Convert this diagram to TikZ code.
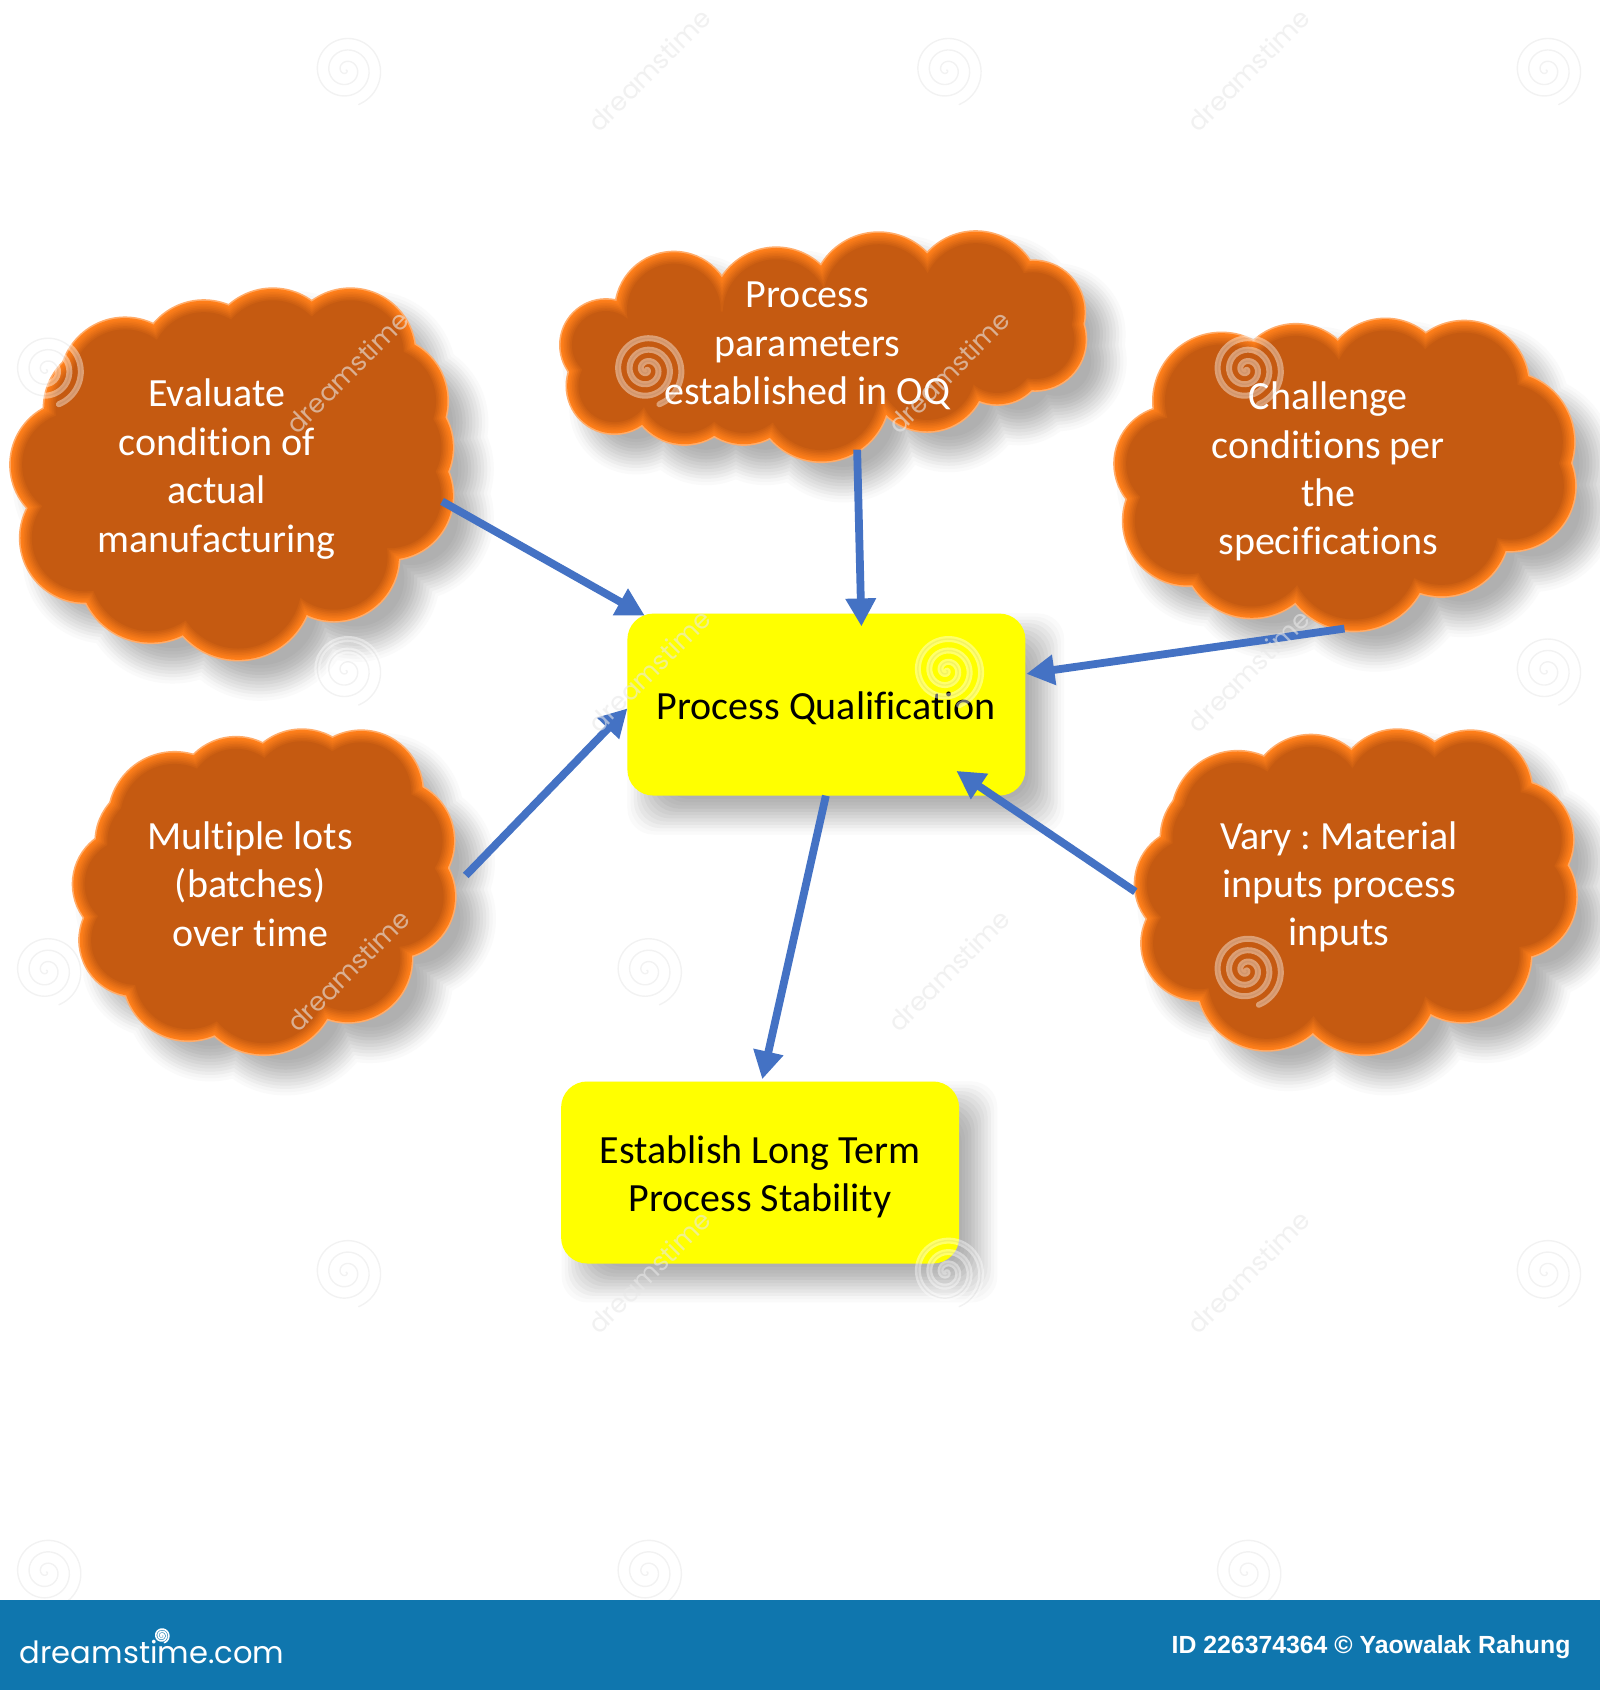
\documentclass[tikz,border=0pt]{standalone}
\usepackage{fontspec}
\setmainfont{Carlito}[RawFeature=-liga]
\newfontfamily\wmfont{Poppins}
\newfontfamily\idfont{Liberation Sans}
\usetikzlibrary{arrows.meta,calc}
\definecolor{cloudcore}{HTML}{C55A11}
\definecolor{cloudedge}{HTML}{FF7F1A}
\definecolor{flow}{RGB}{68,114,196}
\definecolor{banner}{RGB}{15,118,174}
\definecolor{boxyellow}{RGB}{255,255,0}
\definecolor{wmgray}{RGB}{232,232,232}
\def\CloudA{116/355/60,189/339/60,253/329/61,325/328/60,355/372/60,361/415/59,361/460/59,310/516/60,221/543/69,140/529/67,79/499/60,69/431/59,101/379/60}
\def\PolyA{(116,355)--(189,339)--(253,329)--(325,328)--(355,372)--(361,415)--(361,460)--(310,516)--(221,543)--(140,529)--(79,499)--(69,431)--(101,379)--cycle}
\def\CloudB{625/288/54,720/290/60,815/278/62,905/275/60,958/290/48,960/315/47,925/330/45,860/345/55,762/365/63,690/360/52,635/360/52,570/358/44,562/320/42}
\def\PolyB{(625,288)--(720,290)--(815,278)--(905,275)--(958,290)--(960,315)--(925,330)--(860,345)--(762,365)--(690,360)--(635,360)--(570,358)--(562,320)--cycle}
\def\CloudC{1133/372/63,1202/358/57,1285/354/58,1358/358/60,1395/410/65,1401/451/60,1337/490/63,1256/515/70,1161/508/65,1102/483/60,1087/430/53}
\def\PolyC{(1133,372)--(1202,358)--(1285,354)--(1358,358)--(1395,410)--(1401,451)--(1337,490)--(1256,515)--(1161,508)--(1102,483)--(1087,430)--cycle}
\def\CloudD{162/759/61,219/739/55,280/734/57,335/735/57,364/780/57,365/832/57,323/889/59,245/910/68,175/904/61,126/872/52,120/820/52,144/781/55}
\def\PolyD{(162,759)--(219,739)--(280,734)--(335,735)--(364,780)--(365,832)--(323,889)--(245,910)--(175,904)--(126,872)--(120,820)--(144,781)--cycle}
\def\CloudE{1148/758/61,1216/739/57,1296/734/57,1364/735/57,1404/779/55,1405/832/57,1357/885/63,1266/910/68,1175/909/65,1112/875/53,1105/820/52,1132/777/55}
\def\PolyE{(1148,758)--(1216,739)--(1296,734)--(1364,735)--(1404,779)--(1405,832)--(1357,885)--(1266,910)--(1175,909)--(1112,875)--(1105,820)--(1132,777)--cycle}
% #1 list, #2 offset, #3 radius change, #4 colour
\newcommand{\cloudlayer}[4]{\foreach \cx/\cy/\cr in #1 {\fill[#4] (\cx+#2,\cy+#2) circle[radius=\cr+#3];}}
\newcommand{\paintshadow}[2]{%
  \foreach \dr/\gv in {18/2,15/4,12/7,9/10,6/13,3/16,0/19,-3/22,-6/25,-9/27,-12/29,-15/31}{\cloudlayer{#1}{20}{\dr}{black!\gv}}%
  \begin{scope}[shift={(20,20)}]\fill[black!31] #2;\end{scope}%
}
\newcommand{\paintcloud}[2]{%
  \cloudlayer{#1}{0}{1.5}{cloudedge!65!white}%
  \foreach \dr/\mx in {0/100,-1.5/90,-3/75,-4.5/60,-6/45,-7.5/30,-9/15,-10.5/0}{\cloudlayer{#1}{0}{\dr}{cloudedge!\mx!cloudcore}}%
  \fill[cloudcore] #2;%
}
\newcommand{\boxshadow}[4]{%
  \foreach \dr/\gv in {18/2,15/4,12/7,9/10,6/13,3/16,0/19,-3/22,-6/25,-9/27,-12/29,-15/31}{\fill[black!\gv,rounded corners=13pt] (#1+18-\dr,#2+18-\dr) rectangle (#3+18+\dr,#4+18+\dr);}}
\newcommand{\spiral}[3]{\draw[#3,domain=0:1150,samples=110,smooth,variable=\t,line cap=round] plot ({#1+#2*(\t/1150)*cos(\t)},{#2*(\t/1150)*sin(\t)+\spy});}
\newcommand{\lowerstrut}{\rule{0pt}{18pt}}
\tikzset{
  cloudtext/.style={text=white,align=center,font=\fontsize{20}{24.2}\selectfont\frenchspacing,inner sep=0pt},
  yellowbox/.style={fill=boxyellow,rounded corners=13pt,align=center,text=black,font=\fontsize{20}{24.2}\selectfont,inner sep=0pt,minimum width=199pt,minimum height=91pt},
  flowarrow/.style={flow,line width=3.9pt,-{Triangle[length=14pt,width=14.5pt]}},
  wmtext/.style={rotate=45,font=\wmfont\fontsize{13}{13}\selectfont,inner sep=0pt,text=wmgray,text opacity=.6},
}
\begin{document}
\begin{tikzpicture}[x=0.53908pt,y=-0.53908pt]
\useasboundingbox (0,0) rectangle (1484,1567.5);
\fill[white] (0,0) rectangle (1484,1567.5);
\paintshadow{\CloudA}{\PolyA}
\paintshadow{\CloudB}{\PolyB}
\paintshadow{\CloudC}{\PolyC}
\paintshadow{\CloudD}{\PolyD}
\paintshadow{\CloudE}{\PolyE}
\paintcloud{\CloudA}{\PolyA}
\paintcloud{\CloudB}{\PolyB}
\paintcloud{\CloudC}{\PolyC}
\paintcloud{\CloudD}{\PolyD}
\paintcloud{\CloudE}{\PolyE}
\boxshadow{582}{569}{951}{738}
\boxshadow{521}{1003}{889}{1172}
\node[cloudtext] (cloud1) at (201,435) {Evaluate\\condition of\\actual\\manufacturing};
\node[cloudtext] (cloud2) at (749,321) {Process\\parameters\\established in OQ};
\node[cloudtext] (cloud3) at (1232,437.5) {Challenge\\conditions per\\the\\specifications};
\node[cloudtext] (cloud4) at (232,820) {Multiple lots\\(batches)\\over time};
\node[cloudtext] (cloud5) at (1242,822.5) {Vary : Material\\inputs process\\inputs};
\node[yellowbox] (pq) at (766.5,653.5) {\lowerstrut Process Qualification};
\node[yellowbox] (lt) at (705,1087.5) {\lowerstrut Establish Long Term\\Process Stability};
\draw[flowarrow] ($(cloud1.center)+(209,30)$) -- ($(pq.center)+(-168.5,-82.5)$);
\draw[flowarrow] ($(cloud2.center)+(46,96)$) -- ($(pq.center)+(32.5,-72.5)$);
\draw[flowarrow] ($(cloud3.center)+(15,145.5)$) -- ($(pq.center)+(185.5,-28.5)$);
\draw[flowarrow] ($(cloud5.center)+(-189,4.5)$) -- ($(pq.center)+(120.5,61.5)$);
\draw[flowarrow] ($(cloud4.center)+(200,-8)$) -- ($(pq.center)+(-184.5,3.5)$);
\draw[flowarrow] ($(pq.center)+(-0.5,84.5)$) -- ($(lt.center)+(2,-86.5)$);
% watermarks
\foreach \spx/\spy in {321/65,878/65,1434/65,43/343,600/343,1156/343,321/622,878/622,1434/622,43/900,600/900,1156/900,321/1180,878/1180,1434/1180,43/1458,600/1458,1156/1458}{
  \spiral{\spx}{34}{white,opacity=.42,line width=3pt}
  \spiral{\spx}{34}{black,opacity=.05,line width=.7pt}
}
\foreach \wx/\wy in {602/65,1158/65,322/345,880/345,602/622,1158/622,323/900,880/900,602/1180,1158/1180}{
  \node[wmtext] at (\wx,\wy) {dreamstime};
}
\fill[banner] (0,1484) rectangle (1484,1567.5);
\node[anchor=base west,text=white,font=\wmfont\fontsize{15.3}{17}\selectfont,inner sep=0pt] (brand) at (18,1543) {dreamstime.com};
\def\spy{1517}
\spiral{150}{7}{white,line width=.8pt}
\node[anchor=base east,text=white,font=\idfont\bfseries\fontsize{12.4}{13}\selectfont,inner sep=0pt] (credit) at (1457,1534) {ID 226374364 © Yaowalak Rahung};
\end{tikzpicture}
\end{document}
